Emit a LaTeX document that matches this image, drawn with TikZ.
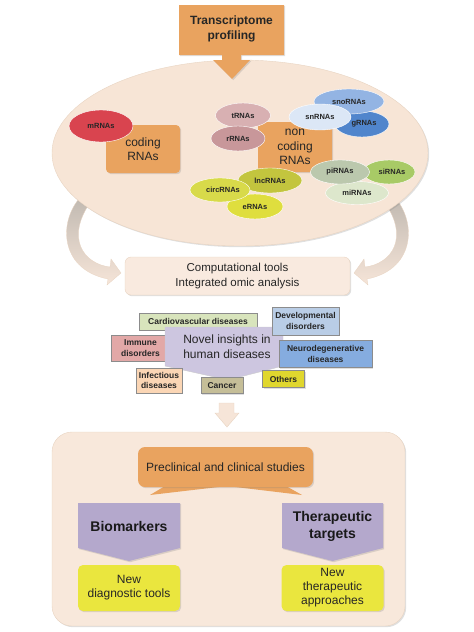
\documentclass[tikz,border=0pt]{standalone}
\usepackage{fontspec}
\setmainfont{Liberation Sans}
\usepackage{xcolor}
\usepackage{tikz}
\usetikzlibrary{positioning,shapes.geometric,shadows}

\definecolor{boxorange}{HTML}{E9A35F}
\definecolor{poolpeach}{HTML}{F7E5D6}
\definecolor{pooledge}{HTML}{E8D4C2}
\definecolor{ribbongray}{HTML}{C2BAB2}
\definecolor{ribbonpeach}{HTML}{F6E5D8}
\definecolor{compfill}{HTML}{F9EADF}
\definecolor{studyfill}{HTML}{F8E8DB}
\definecolor{lavender}{HTML}{B4A8CC}
\definecolor{novelfill}{HTML}{CDC6E0}
\definecolor{newyellow}{HTML}{EAE63E}
% RNA families
\definecolor{mrnacol}{HTML}{D9444F}
\definecolor{trnacol}{HTML}{D8B0B2}
\definecolor{rrnacol}{HTML}{C8979A}
\definecolor{snornacol}{HTML}{93B4E3}
\definecolor{grnacol}{HTML}{5085CC}
\definecolor{snrnacol}{HTML}{DCE7F6}
\definecolor{pirnacol}{HTML}{BBC8AD}
\definecolor{sirnacol}{HTML}{A8CA66}
\definecolor{mirnacol}{HTML}{DDE7CC}
\definecolor{lncrnacol}{HTML}{C3C53E}
\definecolor{circrnacol}{HTML}{D8DA4A}
\definecolor{ernacol}{HTML}{DFDE3E}
% diseases
\definecolor{cardiocol}{HTML}{D8E4BC}
\definecolor{develcol}{HTML}{B9CDE6}
\definecolor{immunecol}{HTML}{E2A8A7}
\definecolor{neurocol}{HTML}{85ACDF}
\definecolor{infectcol}{HTML}{FBD6B5}
\definecolor{cancercol}{HTML}{C5BE98}
\definecolor{otherscol}{HTML}{E0D72E}

\begin{document}
\begin{tikzpicture}[x=1pt, y=-1pt,
    softshadow/.style={drop shadow={opacity=0.25, shadow xshift=1.2pt, shadow yshift=-1.2pt}},
    ribbon/.style={top color=ribbongray, middle color=ribbonpeach!75!ribbongray, bottom color=ribbonpeach,
        draw=pooledge, line width=0.3pt},
    orangebox/.style={fill=boxorange, rounded corners=4pt, inner sep=0pt, align=center, text=black!85,
        font=\fontsize{12}{14}\selectfont, softshadow},
    rna/.style={ellipse, inner sep=0pt, draw=white, line width=0.4pt, text=black!85,
        font=\bfseries\fontsize{7.5}{9}\selectfont},
    disease/.style={draw=black!45, line width=0.5pt, inner sep=0pt, align=center, text=black!85,
        font=\bfseries\fontsize{8.5}{10.3}\selectfont, softshadow},
    newbox/.style={fill=newyellow, rounded corners=5pt, inner sep=0pt, align=center, text=black!85,
        minimum width=102pt, minimum height=46pt, font=\fontsize{12}{14}\selectfont, softshadow}]

    \useasboundingbox (0,0) rectangle (474,632);

    % Curved ribbons from the RNA pool to the tools box
    \shade[ribbon]
        (78,200) .. controls (58,226) and (62,270) .. (108,279) -- (107,285) -- (121,273)
        -- (111,259) -- (110,267) .. controls (84,264) and (64,238) .. (92,200) -- cycle;
    \begin{scope}[xshift=475pt, xscale=-1]
        \shade[ribbon]
            (78,200) .. controls (58,226) and (62,270) .. (108,279) -- (107,285) -- (121,273)
            -- (111,259) -- (110,267) .. controls (84,264) and (64,238) .. (92,200) -- cycle;
    \end{scope}

    % RNA pool
    \node[ellipse, fill=poolpeach, draw=pooledge, minimum width=376pt, minimum height=186pt, softshadow]
        (rnapool) at (240,153) {};

    % Transcriptome profiling (box with arrow)
    \fill[boxorange, softshadow] (179,5) -- (284,5) -- (284,55) -- (241,55) -- (241,60) -- (250,60)
        -- (232,79) -- (213,60) -- (222,60) -- (222,55) -- (179,55) -- cycle;
    \node[align=center, text=black!85, font=\bfseries\fontsize{12}{14.5}\selectfont]
        (profiling) at (231.5,29) {Transcriptome\\profiling};

    % Coding RNAs
    \node[orangebox, minimum width=74pt, minimum height=48pt] (coding) at (143,149) {coding\\RNAs};
    \node[rna, fill=mrnacol, minimum width=64pt, minimum height=32pt] (mrna) at (101,126) {mRNAs};

    % Non coding RNAs
    \node[orangebox, minimum width=74pt, minimum height=50pt, font=\fontsize{12}{14.5}\selectfont]
        (noncoding) at (295,147) {non\\coding\\RNAs};
    \node[rna, fill=trnacol, minimum width=55pt, minimum height=25pt] (trna) at (243,115.5) {tRNAs};
    \node[rna, fill=rrnacol, minimum width=54pt, minimum height=25pt] (rrna) at (238,138.5) {rRNAs};
    \node[rna, fill=grnacol, minimum width=54pt, minimum height=26pt] (grna) at (362,124) {\hspace*{4pt}gRNAs};
    \node[rna, fill=snornacol, minimum width=70pt, minimum height=25pt] (snorna) at (349,101.5) {snoRNAs};
    \node[rna, fill=snrnacol, minimum width=62pt, minimum height=26pt] (snrna) at (320,117) {snRNAs};
    \node[rna, fill=sirnacol, minimum width=52pt, minimum height=24pt] (sirna) at (389,172) {\hspace*{6pt}siRNAs};
    \node[rna, fill=mirnacol, minimum width=63pt, minimum height=23pt] (mirna) at (357,193) {miRNAs};
    \node[rna, fill=pirnacol, minimum width=59pt, minimum height=24pt] (pirna) at (340,172) {piRNAs};
    \node[rna, fill=lncrnacol, minimum width=64pt, minimum height=25pt] (lncrna) at (270,180.5) {lncRNAs};
    \node[rna, fill=ernacol, minimum width=56pt, minimum height=25pt] (erna) at (255,206.5) {eRNAs};
    \node[rna, fill=circrnacol, minimum width=60pt, minimum height=24pt] (circrna) at (220,190) {\hspace*{6pt}circRNAs};

    % Computational tools
    \node[fill=compfill, draw=pooledge, rounded corners=6pt, minimum width=225pt, minimum height=38pt,
        align=center, text=black!85, font=\fontsize{11.5}{15}\selectfont, softshadow]
        (tools) at (237.5,276) {Computational tools\\Integrated omic analysis};

    % Diseases around the insights callout
    \node[disease, fill=cardiocol, minimum width=118pt, minimum height=17pt] (cardio) at (198,321.5) {Cardiovascular diseases};
    \node[disease, fill=immunecol, minimum width=59pt, minimum height=26pt] (immune) at (140.5,348) {Immune\\disorders};
    \fill[novelfill, draw=black!20, line width=0.4pt]
        (165,327) -- (283,327) -- (283,366) -- (228,380) -- (165,366) -- cycle;
    \node[align=center, text=black!85, font=\fontsize{12}{15}\selectfont] (insights) at (227,347)
        {Novel insights in\\human diseases};
    \node[disease, fill=develcol, minimum width=67pt, minimum height=28pt] (devel) at (305.5,321) {Developmental\\disorders};
    \node[disease, fill=neurocol, minimum width=93pt, minimum height=27pt] (neuro) at (325.5,354) {Neurodegenerative\\diseases};
    \node[disease, fill=infectcol, minimum width=46pt, minimum height=25pt] (infect) at (159,380.5) {Infectious\\diseases};
    \node[disease, fill=cancercol, minimum width=42pt, minimum height=16pt] (cancer) at (222,385.5) {Cancer};
    \node[disease, fill=otherscol, minimum width=42pt, minimum height=17pt] (others) at (283.5,379) {Others};

    % Arrow down to the studies
    \fill[ribbonpeach, draw=pooledge, line width=0.4pt] (219,403) -- (234,403) -- (234,413) -- (239,413)
        -- (227,427) -- (215,413) -- (219,413) -- cycle;

    % Preclinical and clinical studies
    \node[fill=studyfill, draw=pooledge, rounded corners=20pt, minimum width=353pt, minimum height=194pt, softshadow]
        (studies) at (228.5,529) {};
    \fill[boxorange] (165,486) -- (150,495) -- (227,486) -- (302,495) -- (286,486) -- cycle;
    \node[orangebox, rounded corners=7pt, minimum width=175pt, minimum height=40pt] (clinical) at (225.5,467)
        {Preclinical and clinical studies};

    % Biomarkers and therapeutic targets
    \fill[lavender, softshadow] (78,503) -- (180,503) -- (180,548) -- (129,561) -- (78,548) -- cycle;
    \node[text=black!90, font=\bfseries\fontsize{14}{17}\selectfont] (biomarkers) at (129,526) {Biomarkers};
    \fill[lavender, softshadow] (282,503) -- (383,503) -- (383,548) -- (332.5,561) -- (282,548) -- cycle;
    \node[align=center, text=black!90, font=\bfseries\fontsize{14}{17}\selectfont] (targets) at (332.5,526)
        {Therapeutic\\targets};

    % New tools and approaches
    \node[newbox] (diagnostic) at (129,588) {New\\diagnostic tools};
    \node[newbox] (approaches) at (332.5,588) {New\\therapeutic\\approaches};
\end{tikzpicture}
\end{document}
